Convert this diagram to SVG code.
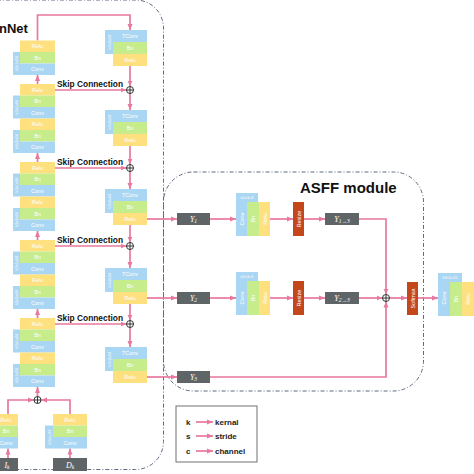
<svg xmlns="http://www.w3.org/2000/svg" width="474" height="474" viewBox="0 0 474 474">
<defs>
<marker id="ah" markerWidth="6" markerHeight="6" refX="6" refY="3" orient="auto" markerUnits="userSpaceOnUse"><path d="M0,0.5 L6,3 L0,5.5 z" fill="#e8789f"/></marker>
<style>
.relu{fill:#fee07e}.bn{fill:#c6ec8c}.conv{fill:#a9d6f3}.strip{fill:#a9d6f3}
.lt{font-family:"Liberation Sans",Arial,sans-serif;font-size:5.5px;fill:#ffffff;text-anchor:middle}
.st{font-family:"Liberation Sans",Arial,sans-serif;font-size:4px;fill:#ffffff;text-anchor:middle}
.dark{fill:#5f6566}.org{fill:#c4461b}
.yt{font-family:"Liberation Serif","Times New Roman",serif;font-style:italic;font-size:8px;fill:#ffffff;text-anchor:middle}
.sub{font-size:5.5px}
.skip{font-family:"Liberation Sans",Arial,sans-serif;font-weight:bold;font-size:9px;fill:#111}
.title{font-family:"Liberation Sans",Arial,sans-serif;font-weight:bold;fill:#111}
.leg{font-family:"Liberation Sans",Arial,sans-serif;font-weight:bold;font-size:8px;fill:#222}
.ln{fill:none;stroke:#e8789f;stroke-width:1.7}
.ar{fill:none;stroke:#e8789f;stroke-width:1.7;marker-end:url(#ah)}
.dash{fill:none;stroke:#5f6a80;stroke-width:1;stroke-dasharray:4 2 1 2}
.plus{fill:#ffffff;stroke:#222;stroke-width:0.9}
</style>
</defs>

<rect width="474" height="474" fill="#ffffff"/>

<g id="boxes">
<rect class="dash" x="-40" y="0" width="203.5" height="469.5" rx="28"/>
<rect class="dash" x="163.5" y="172" width="260" height="219" rx="30"/>
<text class="title" x="-1" y="33" font-size="13">nNet</text>
<text class="title" x="300" y="193" font-size="15">ASFF module</text>
</g>

<g id="connectors">
<polyline class="ar" points="37.5,40.5 37.5,15 130,15 130,30"/>
<line class="ar" x1="37.5" y1="84" x2="37.5" y2="75"/>
<line class="ar" x1="37.5" y1="162" x2="37.5" y2="153"/>
<line class="ar" x1="37.5" y1="240" x2="37.5" y2="231"/>
<line class="ar" x1="37.5" y1="318" x2="37.5" y2="309"/>
<line class="ar" x1="37.5" y1="396.5" x2="37.5" y2="387"/>
<polyline class="ar" points="8,414 8,400 34,400"/>
<polyline class="ar" points="70,414 70,400 41,400"/>
<line class="ar" x1="8" y1="458" x2="8" y2="448.5"/>
<line class="ar" x1="70" y1="458" x2="70" y2="448.5"/>
<line class="ar" x1="55" y1="90" x2="126.5" y2="90"/>
<line class="ar" x1="55" y1="168" x2="126.5" y2="168"/>
<line class="ar" x1="55" y1="246" x2="126.5" y2="246"/>
<line class="ar" x1="55" y1="324" x2="126.5" y2="324"/>
<line class="ar" x1="130" y1="66" x2="130" y2="86.5"/>
<line class="ar" x1="130" y1="93.5" x2="130" y2="110"/>
<line class="ar" x1="130" y1="146" x2="130" y2="164.5"/>
<line class="ar" x1="130" y1="171.5" x2="130" y2="189"/>
<line class="ar" x1="130" y1="225" x2="130" y2="242.5"/>
<line class="ar" x1="130" y1="249.5" x2="130" y2="268"/>
<line class="ar" x1="130" y1="304" x2="130" y2="320.5"/>
<line class="ar" x1="130" y1="327.5" x2="130" y2="347"/>
<line class="ar" x1="147" y1="219" x2="177" y2="219"/>
<line class="ar" x1="147" y1="298" x2="177" y2="298"/>
<line class="ar" x1="147" y1="377" x2="177" y2="377"/>
<line class="ar" x1="210" y1="219" x2="236" y2="219"/>
<line class="ar" x1="210" y1="298" x2="236" y2="298"/>
<line class="ar" x1="270" y1="219" x2="293" y2="219"/>
<line class="ar" x1="270" y1="298" x2="293" y2="298"/>
<line class="ar" x1="304" y1="219" x2="325" y2="219"/>
<line class="ar" x1="304" y1="298" x2="325" y2="298"/>
<polyline class="ar" points="359,219 386,219 386,294.5"/>
<line class="ar" x1="359" y1="298" x2="382.5" y2="298"/>
<polyline class="ar" points="210,377 386,377 386,301.5"/>
<line class="ar" x1="389.5" y1="298" x2="407" y2="298"/>
<line class="ar" x1="418" y1="298" x2="438" y2="298"/>
</g>

<g id="plus-nodes">
<g id="plus-in"><circle class="plus" cx="37.5" cy="400" r="3.5"/><path d="M34,400H41M37.5,396.5V403.5" stroke="#222" stroke-width="0.9"/></g>
<g id="plus-1"><circle class="plus" cx="130" cy="90" r="3.5"/><path d="M126.5,90H133.5M130,86.5V93.5" stroke="#222" stroke-width="0.9"/></g>
<g id="plus-2"><circle class="plus" cx="130" cy="168" r="3.5"/><path d="M126.5,168H133.5M130,164.5V171.5" stroke="#222" stroke-width="0.9"/></g>
<g id="plus-3"><circle class="plus" cx="130" cy="246" r="3.5"/><path d="M126.5,246H133.5M130,242.5V249.5" stroke="#222" stroke-width="0.9"/></g>
<g id="plus-4"><circle class="plus" cx="130" cy="324" r="3.5"/><path d="M126.5,324H133.5M130,320.5V327.5" stroke="#222" stroke-width="0.9"/></g>
<g id="plus-asff"><circle class="plus" cx="386" cy="298" r="3.5"/><path d="M382.5,298H389.5M386,294.5V301.5" stroke="#222" stroke-width="0.9"/></g>
</g>

<g id="skip-labels">
<text class="skip" x="57" y="86.5" textLength="66" lengthAdjust="spacingAndGlyphs">Skip Connection</text>
<text class="skip" x="57" y="164.5" textLength="66" lengthAdjust="spacingAndGlyphs">Skip Connection</text>
<text class="skip" x="57" y="242.5" textLength="66" lengthAdjust="spacingAndGlyphs">Skip Connection</text>
<text class="skip" x="57" y="320.5" textLength="66" lengthAdjust="spacingAndGlyphs">Skip Connection</text>
</g>

<!-- Encoder -->
<g id="enc-1" transform="translate(20,40.5)">
<rect class="relu" width="35" height="11.5"/><rect class="bn" y="11.5" width="35" height="11.5"/><rect class="conv" y="23" width="35" height="11.5"/>
<rect class="strip" x="-7" y="11.5" width="7" height="23"/>
<text class="lt" x="17.5" y="7.8">Relu</text><text class="lt" x="17.5" y="19.3">Bn</text><text class="lt" x="17.5" y="30.8">Conv</text>
<text class="st" transform="translate(-2,23) rotate(-90)">k3s1c64</text>
</g>
<g id="enc-2" transform="translate(20,84)">
<rect class="relu" width="35" height="11.5"/><rect class="bn" y="11.5" width="35" height="11.5"/><rect class="conv" y="23" width="35" height="11.5"/>
<rect class="relu" y="34.5" width="35" height="11.5"/><rect class="bn" y="46" width="35" height="11.5"/><rect class="conv" y="57.5" width="35" height="11.5"/>
<rect class="strip" x="-7" y="11.5" width="7" height="23"/><rect class="strip" x="-7" y="46" width="7" height="23"/>
<text class="lt" x="17.5" y="7.8">Relu</text><text class="lt" x="17.5" y="19.3">Bn</text><text class="lt" x="17.5" y="30.8">Conv</text>
<text class="lt" x="17.5" y="42.3">Relu</text><text class="lt" x="17.5" y="53.8">Bn</text><text class="lt" x="17.5" y="65.3">Conv</text>
<text class="st" transform="translate(-2,23) rotate(-90)">k3s1c64</text><text class="st" transform="translate(-2,57.5) rotate(-90)">k3s2c64</text>
</g>
<g id="enc-3" transform="translate(20,162)">
<rect class="relu" width="35" height="11.5"/><rect class="bn" y="11.5" width="35" height="11.5"/><rect class="conv" y="23" width="35" height="11.5"/>
<rect class="relu" y="34.5" width="35" height="11.5"/><rect class="bn" y="46" width="35" height="11.5"/><rect class="conv" y="57.5" width="35" height="11.5"/>
<rect class="strip" x="-7" y="11.5" width="7" height="23"/><rect class="strip" x="-7" y="46" width="7" height="23"/>
<text class="lt" x="17.5" y="7.8">Relu</text><text class="lt" x="17.5" y="19.3">Bn</text><text class="lt" x="17.5" y="30.8">Conv</text>
<text class="lt" x="17.5" y="42.3">Relu</text><text class="lt" x="17.5" y="53.8">Bn</text><text class="lt" x="17.5" y="65.3">Conv</text>
<text class="st" transform="translate(-2,23) rotate(-90)">k3s1c64</text><text class="st" transform="translate(-2,57.5) rotate(-90)">k3s2c64</text>
</g>
<g id="enc-4" transform="translate(20,240)">
<rect class="relu" width="35" height="11.5"/><rect class="bn" y="11.5" width="35" height="11.5"/><rect class="conv" y="23" width="35" height="11.5"/>
<rect class="relu" y="34.5" width="35" height="11.5"/><rect class="bn" y="46" width="35" height="11.5"/><rect class="conv" y="57.5" width="35" height="11.5"/>
<rect class="strip" x="-7" y="11.5" width="7" height="23"/><rect class="strip" x="-7" y="46" width="7" height="23"/>
<text class="lt" x="17.5" y="7.8">Relu</text><text class="lt" x="17.5" y="19.3">Bn</text><text class="lt" x="17.5" y="30.8">Conv</text>
<text class="lt" x="17.5" y="42.3">Relu</text><text class="lt" x="17.5" y="53.8">Bn</text><text class="lt" x="17.5" y="65.3">Conv</text>
<text class="st" transform="translate(-2,23) rotate(-90)">k3s1c64</text><text class="st" transform="translate(-2,57.5) rotate(-90)">k3s2c64</text>
</g>
<g id="enc-5" transform="translate(20,318)">
<rect class="relu" width="35" height="11.5"/><rect class="bn" y="11.5" width="35" height="11.5"/><rect class="conv" y="23" width="35" height="11.5"/>
<rect class="relu" y="34.5" width="35" height="11.5"/><rect class="bn" y="46" width="35" height="11.5"/><rect class="conv" y="57.5" width="35" height="11.5"/>
<rect class="strip" x="-7" y="11.5" width="7" height="23"/><rect class="strip" x="-7" y="46" width="7" height="23"/>
<text class="lt" x="17.5" y="7.8">Relu</text><text class="lt" x="17.5" y="19.3">Bn</text><text class="lt" x="17.5" y="30.8">Conv</text>
<text class="lt" x="17.5" y="42.3">Relu</text><text class="lt" x="17.5" y="53.8">Bn</text><text class="lt" x="17.5" y="65.3">Conv</text>
<text class="st" transform="translate(-2,23) rotate(-90)">k3s1c64</text><text class="st" transform="translate(-2,57.5) rotate(-90)">k3s1c64</text>
</g>

<!-- Inputs -->
<g id="in-left" transform="translate(-16,414)">
<rect class="relu" width="34" height="11.5"/><rect class="bn" y="11.5" width="34" height="11.5"/><rect class="conv" y="23" width="34" height="11.5"/>
<text class="lt" x="22" y="7.8">Relu</text><text class="lt" x="22" y="19.3">Bn</text><text class="lt" x="22" y="30.8">Conv</text>
</g>
<g id="in-right" transform="translate(53,414)">
<rect class="relu" width="34" height="11.5"/><rect class="bn" y="11.5" width="34" height="11.5"/><rect class="conv" y="23" width="34" height="11.5"/>
<rect class="strip" x="-8" y="11.5" width="8" height="23"/>
<text class="lt" x="17" y="7.8">Relu</text><text class="lt" x="17" y="19.3">Bn</text><text class="lt" x="17" y="30.8">Conv</text>
<text class="st" transform="translate(-2.5,23) rotate(-90)">k3s1c32</text>
</g>
<g id="input-Ik"><rect class="dark" x="-16" y="458" width="34" height="13"/><text class="yt" x="7" y="467.5">I<tspan class="sub" dy="1.5">k</tspan></text></g>
<g id="input-Dk"><rect class="dark" x="53" y="458" width="34" height="13"/><text class="yt" x="70" y="467.5">D<tspan class="sub" dy="1.5">k</tspan></text></g>

<!-- Decoder -->
<g id="dec-1" transform="translate(113,30)">
<rect class="conv" width="34" height="12"/><rect class="bn" y="12" width="34" height="12"/><rect class="relu" y="24" width="34" height="12"/>
<rect class="strip" x="-8" width="8" height="24"/>
<text class="lt" x="17" y="8">TConv</text><text class="lt" x="17" y="20">Bn</text><text class="lt" x="17" y="32">Relu</text>
<text class="st" transform="translate(-2.5,12) rotate(-90)">k3s2c64</text>
</g>
<g id="dec-2" transform="translate(113,110)">
<rect class="conv" width="34" height="12"/><rect class="bn" y="12" width="34" height="12"/><rect class="relu" y="24" width="34" height="12"/>
<rect class="strip" x="-8" width="8" height="24"/>
<text class="lt" x="17" y="8">TConv</text><text class="lt" x="17" y="20">Bn</text><text class="lt" x="17" y="32">Relu</text>
<text class="st" transform="translate(-2.5,12) rotate(-90)">k3s2c64</text>
</g>
<g id="dec-3" transform="translate(113,189)">
<rect class="conv" width="34" height="12"/><rect class="bn" y="12" width="34" height="12"/><rect class="relu" y="24" width="34" height="12"/>
<rect class="strip" x="-8" width="8" height="24"/>
<text class="lt" x="17" y="8">TConv</text><text class="lt" x="17" y="20">Bn</text><text class="lt" x="17" y="32">Relu</text>
<text class="st" transform="translate(-2.5,12) rotate(-90)">k3s2c64</text>
</g>
<g id="dec-4" transform="translate(113,268)">
<rect class="conv" width="34" height="12"/><rect class="bn" y="12" width="34" height="12"/><rect class="relu" y="24" width="34" height="12"/>
<rect class="strip" x="-8" width="8" height="24"/>
<text class="lt" x="17" y="8">TConv</text><text class="lt" x="17" y="20">Bn</text><text class="lt" x="17" y="32">Relu</text>
<text class="st" transform="translate(-2.5,12) rotate(-90)">k3s2c64</text>
</g>
<g id="dec-5" transform="translate(113,347)">
<rect class="conv" width="34" height="12"/><rect class="bn" y="12" width="34" height="12"/><rect class="relu" y="24" width="34" height="12"/>
<rect class="strip" x="-8" width="8" height="24"/>
<text class="lt" x="17" y="8">TConv</text><text class="lt" x="17" y="20">Bn</text><text class="lt" x="17" y="32">Relu</text>
<text class="st" transform="translate(-2.5,12) rotate(-90)">k3s2c64</text>
</g>

<!-- ASFF -->
<g id="Y1"><rect class="dark" x="177" y="213" width="33" height="12"/><text class="yt" x="193.5" y="221.5">Y<tspan class="sub" dy="1.5">1</tspan></text></g>
<g id="Y2"><rect class="dark" x="177" y="292" width="33" height="12"/><text class="yt" x="193.5" y="300.5">Y<tspan class="sub" dy="1.5">2</tspan></text></g>
<g id="Y3"><rect class="dark" x="177" y="371" width="33" height="12"/><text class="yt" x="193.5" y="379.5">Y<tspan class="sub" dy="1.5">3</tspan></text></g>

<g id="asff-cbr-1">
<rect class="conv" x="236" y="193" width="11" height="43"/><rect class="strip" x="236" y="193" width="22" height="9"/>
<rect class="bn" x="247" y="202" width="12" height="34"/><rect class="relu" x="259" y="202" width="11" height="34"/>
<text class="st" x="247" y="199">k1s1c3</text>
<text class="lt" transform="translate(243.5,219) rotate(-90)">Conv</text>
<text class="lt" transform="translate(255,219) rotate(-90)">Bn</text>
<text class="lt" transform="translate(266.5,219) rotate(-90)">Relu</text>
</g>
<g id="asff-cbr-2">
<rect class="conv" x="236" y="272" width="11" height="43"/><rect class="strip" x="236" y="272" width="22" height="9"/>
<rect class="bn" x="247" y="281" width="12" height="34"/><rect class="relu" x="259" y="281" width="11" height="34"/>
<text class="st" x="247" y="278">k1s1c3</text>
<text class="lt" transform="translate(243.5,298) rotate(-90)">Conv</text>
<text class="lt" transform="translate(255,298) rotate(-90)">Bn</text>
<text class="lt" transform="translate(266.5,298) rotate(-90)">Relu</text>
</g>
<g id="resize-1"><rect class="org" x="293" y="202" width="11" height="34"/><text class="lt" transform="translate(300.5,219) rotate(-90)">Resize</text></g>
<g id="resize-2"><rect class="org" x="293" y="281" width="11" height="34"/><text class="lt" transform="translate(300.5,298) rotate(-90)">Resize</text></g>
<g id="Y13"><rect class="dark" x="325" y="213" width="34" height="12"/><text class="yt" x="342" y="221.5">Y<tspan class="sub" dy="1.5">1→3</tspan></text></g>
<g id="Y23"><rect class="dark" x="325" y="292" width="34" height="12"/><text class="yt" x="342" y="300.5">Y<tspan class="sub" dy="1.5">2→3</tspan></text></g>
<g id="softmax"><rect class="org" x="407" y="282" width="11" height="33"/><text class="lt" transform="translate(414.5,298.5) rotate(-90)">Softmax</text></g>
<g id="out-cbr">
<rect class="conv" x="438" y="273" width="12" height="43"/><rect class="strip" x="438" y="273" width="24" height="9"/>
<rect class="bn" x="450" y="282" width="12" height="34"/><rect class="relu" x="462" y="282" width="12" height="34"/>
<text class="st" x="450" y="279">k3s1c32</text>
<text class="lt" transform="translate(446,298) rotate(-90)">Conv</text>
<text class="lt" transform="translate(458,299) rotate(-90)">Bn</text>
<text class="lt" transform="translate(470,299) rotate(-90)">Relu</text>
</g>

<!-- Legend -->
<g id="legend">
<rect x="176" y="406" width="81" height="56" fill="#ffffff" stroke="#707070" stroke-width="1"/>
<text class="leg" x="186" y="425">k</text><line class="ar" x1="196" y1="422" x2="213" y2="422"/><text class="leg" x="215" y="425">kernal</text>
<text class="leg" x="186" y="439">s</text><line class="ar" x1="196" y1="436" x2="213" y2="436"/><text class="leg" x="215" y="439">stride</text>
<text class="leg" x="186" y="454">c</text><line class="ar" x1="196" y1="451" x2="213" y2="451"/><text class="leg" x="215" y="454">channel</text>
</g>
</svg>
